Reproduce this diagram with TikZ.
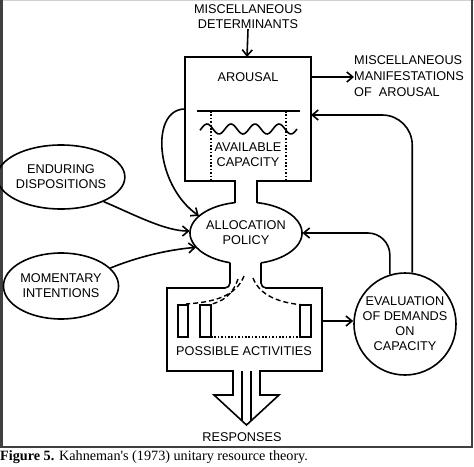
\documentclass[tikz,border=0pt]{standalone}
\usepackage{fontspec}
\setmainfont{Liberation Sans}
\newfontfamily\capfont{Liberation Serif}
\usetikzlibrary{arrows.meta,shapes.geometric}

\tikzset{
  lbl/.style={font=\fontsize{12.7}{15}\selectfont, align=center, inner sep=0pt},
  bubble/.style={draw, ellipse, line width=1.6pt, minimum width=112pt, minimum height=64pt, lbl},
  flow/.style={line width=1.6pt, -{Straight Barb[length=6pt,width=10pt]}},
  outline/.style={line width=1.6pt},
  dots/.style={line width=1.2pt, dash pattern=on 1.6pt off 1.8pt},
  dashes/.style={line width=1.4pt, dash pattern=on 5pt off 3pt},
}

\begin{document}
\begin{tikzpicture}[x=1pt, y=-1pt]
  \useasboundingbox (0,0) rectangle (474,466);

  % frame of the scan
  \draw[black!18, line width=1pt] (0,0.5) -- (474,0.5);
  \draw[black!75, line width=2.5pt] (1.5,0) -- (1.5,447) -- (472,447) -- (472,0);

  % labels and boxes
  \node[lbl] (misc) at (248,17) {MISCELLANEOUS\\DETERMINANTS};
  \node[lbl] (arousal) at (248,77) {AROUSAL};
  \node[lbl] (avail) at (248,155) {AVAILABLE\\CAPACITY};
  \node[lbl, ellipse, minimum width=112pt, minimum height=62pt] (alloc) at (246,233) {ALLOCATION\\POLICY};
  \node[lbl] (possible) at (244,351) {POSSIBLE ACTIVITIES};
  \node[lbl] (resp) at (242,437) {RESPONSES};
  \node[lbl, anchor=west, align=left, font=\fontsize{12.7}{16}\selectfont] (manif) at (354,76) {MISCELLANEOUS\\MANIFESTATIONS\\OF\ \ AROUSAL};
  \node[bubble] (endur) at (61,177) {ENDURING\\DISPOSITIONS};
  \node[bubble, minimum height=66pt] (moment) at (61,286) {MOMENTARY\\INTENTIONS};
  \node[draw, circle, line width=1.6pt, minimum size=102pt, lbl] (eval) at (405,324) {EVALUATION\\OF DEMANDS\\ON\\CAPACITY};

  \coordinate (boxN) at (247,57);
  \coordinate (boxE) at (311,77);
  \coordinate (boxEin) at (311,115);
  \coordinate (boxW) at (185,109);
  \coordinate (actE) at (322,321);

  % arousal box with its neck
  \draw[outline] (235,202.6) -- (235,181) -- (185,181) -- (185,57) -- (311,57) -- (311,181) -- (257,181) -- (257,202.6);
  \draw[outline] (197,111) -- (300,111);
  \draw[dots] (211,111) -- (211,181);
  \draw[dots] (286,111) -- (286,181);
  \draw[line width=1.6pt] plot[domain=200:297, samples=60, smooth] (\x, {129-5*cos(15*(\x-207))});

  % allocation policy
  \draw[outline] (235,202.6) arc[start angle=-101.3, end angle=-253.4, x radius=56, y radius=31];
  \draw[outline] (261,262.9) arc[start angle=74.5, end angle=-78.7, x radius=56, y radius=31];

  % possible activities with the outlet arrow
  \draw[outline] (230,262.7) -- (230,283) arc[start angle=0, end angle=90, radius=5] -- (167,288) -- (167,371)
    -- (233,371) -- (233,395) -- (214,395) -- (246.5,425) -- (279,395) -- (260,395) -- (260,371)
    -- (322,371) -- (322,288) -- (266,288) arc[start angle=90, end angle=180, radius=5] -- (261,262.9);
  \draw[outline] (242,371) -- (242,420.8);
  \draw[outline] (251,371) -- (251,420.8);
  \draw[outline] (178,305) rectangle (188,337);
  \draw[outline] (200,305) rectangle (211,337);
  \draw[outline] (300,305) rectangle (311,337);
  \draw[dots] (211,337) -- (300,337);
  \draw[dashes] (244,276) .. controls (236,296) and (215,302) .. (186,304);
  \draw[dashes] (238,279) .. controls (232,296) and (222,302) .. (208,305);
  \draw[dashes] (253,278) .. controls (260,296) and (280,303) .. (304,305);

  % connectors
  \draw[flow] (misc.south) -- (boxN);
  \draw[flow] (boxE) -- (manif.west |- boxE);
  \draw[flow] (boxW) .. controls (150,109) and (155,185) .. (alloc.160);
  \draw[flow] (endur.-30) .. controls (135,215) and (165,231) .. (alloc.178);
  \draw[flow] (moment.20) .. controls (135,258) and (165,250) .. (alloc.196);
  \draw[flow, rounded corners=30pt] (eval.82) |- (boxEin);
  \draw[flow, rounded corners=22pt] (eval.107) |- (alloc.east);
  \draw[flow] (actE) -- (actE -| eval.west);

  % caption
  \node[anchor=west, inner sep=0pt, font=\capfont\fontsize{14.2}{16}\selectfont] (caption) at (0,457)
    {\textbf{Figure 5.} Kahneman\textquotesingle s (1973) unitary resource theory.};
\end{tikzpicture}
\end{document}
